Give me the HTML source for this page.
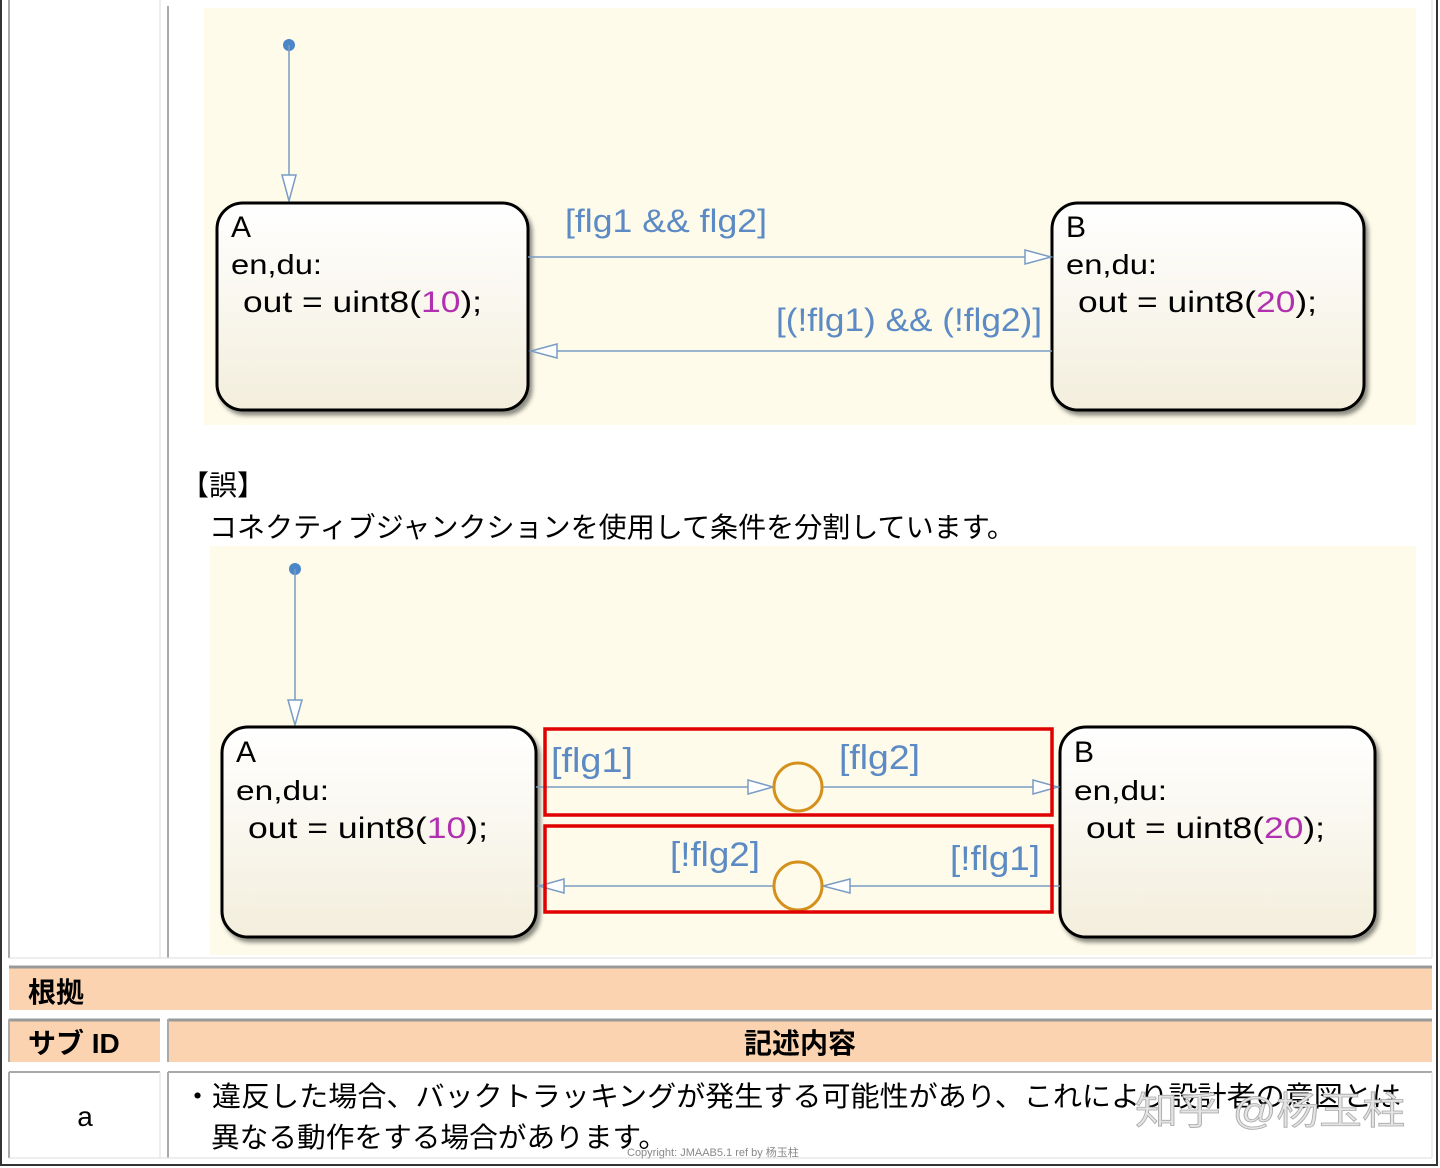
<!DOCTYPE html>
<html><head><meta charset="utf-8"><style>
html,body{margin:0;padding:0;background:#fff;width:1440px;height:1168px;overflow:hidden}
svg{display:block}
text{font-family:"Liberation Sans","Noto Sans CJK JP",sans-serif}
</style></head><body>
<svg width="1440" height="1168" viewBox="0 0 1440 1168" xmlns="http://www.w3.org/2000/svg">
<defs>
<linearGradient id="sg" x1="0" y1="0" x2="0" y2="1"><stop offset="0" stop-color="#ffffff"/><stop offset="1" stop-color="#f3eedc"/></linearGradient>
<filter id="sh" x="-5%" y="-5%" width="115%" height="115%"><feDropShadow dx="3" dy="4" stdDeviation="2" flood-color="#000" flood-opacity="0.45"/></filter>
</defs>
<rect x="1" y="-2" width="1436" height="1167" fill="none" stroke="#333" stroke-width="2"/>
<line x1="9" y1="0" x2="9" y2="958" stroke="#aaa" stroke-width="2"/>
<line x1="160" y1="0" x2="160" y2="958" stroke="#eee" stroke-width="2"/>
<line x1="168" y1="6" x2="168" y2="958" stroke="#aaa" stroke-width="2"/>
<line x1="1432" y1="0" x2="1432" y2="958" stroke="#ddd" stroke-width="1"/>

<rect x="204" y="8" width="1212" height="417" fill="#fefbea"/>
<circle cx="289" cy="45" r="6" fill="#4a86c8"/>
<line x1="289" y1="45" x2="289" y2="200" stroke="#7a9cc4" stroke-width="1.5"/>
<polygon points="282,175 296,175 289,201" fill="#fff" stroke="#7a9cc4" stroke-width="1.5"/>
<rect x="217" y="203" width="311" height="207" rx="26" fill="url(#sg)" stroke="#000" stroke-width="3" filter="url(#sh)"/>
<text x="231" y="237" font-size="30">A</text>
<text x="231" y="274" font-size="28" textLength="91" lengthAdjust="spacingAndGlyphs">en,du:</text>
<text x="243" y="312" font-size="30" textLength="239" lengthAdjust="spacingAndGlyphs">out = uint8(<tspan fill="#b030b0">10</tspan>);</text>
<rect x="1052" y="203" width="312" height="207" rx="26" fill="url(#sg)" stroke="#000" stroke-width="3" filter="url(#sh)"/>
<text x="1066" y="237" font-size="30">B</text>
<text x="1066" y="274" font-size="28" textLength="91" lengthAdjust="spacingAndGlyphs">en,du:</text>
<text x="1078" y="312" font-size="30" textLength="239" lengthAdjust="spacingAndGlyphs">out = uint8(<tspan fill="#b030b0">20</tspan>);</text>
<line x1="528" y1="257" x2="1050" y2="257" stroke="#7a9cc4" stroke-width="1.5"/>
<polygon points="1025,250 1025,264 1051,257" fill="#fff" stroke="#7a9cc4" stroke-width="1.5"/>
<text x="565" y="232" font-size="32" fill="#5b8ac4" textLength="202" lengthAdjust="spacingAndGlyphs">[flg1 &amp;&amp; flg2]</text>
<line x1="530" y1="351" x2="1052" y2="351" stroke="#7a9cc4" stroke-width="1.5"/>
<polygon points="557,344 557,358 531,351" fill="#fff" stroke="#7a9cc4" stroke-width="1.5"/>
<text x="776" y="331" font-size="32" fill="#5b8ac4" textLength="266" lengthAdjust="spacingAndGlyphs">[(!flg1) &amp;&amp; (!flg2)]</text>

<text x="181" y="495" font-size="28">【誤】</text>
<text x="209" y="537" font-size="28" textLength="806" lengthAdjust="spacingAndGlyphs">コネクティブジャンクションを使用して条件を分割しています。</text>

<rect x="210" y="546" width="1206" height="409" fill="#fefbea"/>
<circle cx="295" cy="569" r="6" fill="#4a86c8"/>
<line x1="295" y1="569" x2="295" y2="724" stroke="#7a9cc4" stroke-width="1.5"/>
<polygon points="288,700 302,700 295,725" fill="#fff" stroke="#7a9cc4" stroke-width="1.5"/>
<rect x="222" y="727" width="314" height="210" rx="26" fill="url(#sg)" stroke="#000" stroke-width="3" filter="url(#sh)"/>
<text x="236" y="762" font-size="30">A</text>
<text x="236" y="800" font-size="28" textLength="93" lengthAdjust="spacingAndGlyphs">en,du:</text>
<text x="248" y="838" font-size="30" textLength="240" lengthAdjust="spacingAndGlyphs">out = uint8(<tspan fill="#b030b0">10</tspan>);</text>
<rect x="1060" y="727" width="315" height="210" rx="26" fill="url(#sg)" stroke="#000" stroke-width="3" filter="url(#sh)"/>
<text x="1074" y="762" font-size="30">B</text>
<text x="1074" y="800" font-size="28" textLength="93" lengthAdjust="spacingAndGlyphs">en,du:</text>
<text x="1086" y="838" font-size="30" textLength="239" lengthAdjust="spacingAndGlyphs">out = uint8(<tspan fill="#b030b0">20</tspan>);</text>
<line x1="536" y1="787" x2="1058" y2="787" stroke="#7a9cc4" stroke-width="1.5"/>
<polygon points="748,780 748,794 773,787" fill="#fff" stroke="#7a9cc4" stroke-width="1.5"/>
<polygon points="1033,780 1033,794 1058,787" fill="#fff" stroke="#7a9cc4" stroke-width="1.5"/>
<circle cx="798" cy="787" r="24" fill="#fefbea" stroke="#d4901a" stroke-width="3"/>
<line x1="538" y1="886" x2="1060" y2="886" stroke="#7a9cc4" stroke-width="1.5"/>
<polygon points="564,879 564,893 539,886" fill="#fff" stroke="#7a9cc4" stroke-width="1.5"/>
<polygon points="850,879 850,893 823,886" fill="#fff" stroke="#7a9cc4" stroke-width="1.5"/>
<circle cx="798" cy="886" r="24" fill="#fefbea" stroke="#d4901a" stroke-width="3"/>
<rect x="545" y="729" width="507" height="86" fill="none" stroke="#e00000" stroke-width="3.5"/>
<rect x="545" y="826" width="507" height="86" fill="none" stroke="#e00000" stroke-width="3.5"/>
<text x="551" y="772" font-size="34" fill="#5b8ac4" textLength="82" lengthAdjust="spacingAndGlyphs">[flg1]</text>
<text x="839" y="769" font-size="34" fill="#5b8ac4" textLength="81" lengthAdjust="spacingAndGlyphs">[flg2]</text>
<text x="670" y="866" font-size="34" fill="#5b8ac4" textLength="90" lengthAdjust="spacingAndGlyphs">[!flg2]</text>
<text x="950" y="870" font-size="34" fill="#5b8ac4" textLength="90" lengthAdjust="spacingAndGlyphs">[!flg1]</text>

<line x1="9" y1="958" x2="1432" y2="958" stroke="#ddd" stroke-width="1"/>
<rect x="9" y="966" width="1423" height="44" fill="#fbd3b0"/>
<line x1="9" y1="967" x2="1432" y2="967" stroke="#999" stroke-width="3"/>
<text x="28" y="1002" font-size="28" font-weight="bold">根拠</text>

<rect x="9" y="1019" width="151" height="43" fill="#fbd3b0"/>
<rect x="168" y="1019" width="1264" height="43" fill="#fbd3b0"/>
<line x1="9" y1="1020" x2="160" y2="1020" stroke="#999" stroke-width="3"/>
<line x1="168" y1="1020" x2="1432" y2="1020" stroke="#999" stroke-width="3"/>
<line x1="9" y1="1019" x2="9" y2="1062" stroke="#aaa" stroke-width="2"/>
<line x1="168" y1="1019" x2="168" y2="1062" stroke="#aaa" stroke-width="2"/>
<text x="28" y="1053" font-size="28" font-weight="bold">サブ ID</text>
<text x="800" y="1053" font-size="28" font-weight="bold" text-anchor="middle">記述内容</text>

<line x1="9" y1="1072" x2="160" y2="1072" stroke="#aaa" stroke-width="2"/>
<line x1="168" y1="1072" x2="1432" y2="1072" stroke="#aaa" stroke-width="2"/>
<line x1="9" y1="1072" x2="9" y2="1158" stroke="#aaa" stroke-width="2"/>
<line x1="168" y1="1072" x2="168" y2="1158" stroke="#aaa" stroke-width="2"/>
<line x1="160" y1="1072" x2="160" y2="1158" stroke="#ddd" stroke-width="1"/>
<line x1="1432" y1="1072" x2="1432" y2="1158" stroke="#ddd" stroke-width="1"/>
<line x1="9" y1="1158" x2="1432" y2="1158" stroke="#ddd" stroke-width="1"/>
<text x="85" y="1126" font-size="28" text-anchor="middle">a</text>
<text x="183" y="1106" font-size="28" textLength="1218" lengthAdjust="spacingAndGlyphs">・違反した場合、バックトラッキングが発生する可能性があり、これにより設計者の意図とは</text>
<text x="211" y="1147" font-size="28" textLength="456" lengthAdjust="spacingAndGlyphs">異なる動作をする場合があります。</text>
<text x="1135" y="1124" font-size="38" fill="#e4e4e4" stroke="#aaa" stroke-width="0.8" textLength="270" lengthAdjust="spacingAndGlyphs">知乎 @杨玉柱</text>
<text x="627" y="1156" font-size="11" fill="#888">Copyright: JMAAB5.1 ref by 杨玉柱</text>
</svg>
</body></html>
